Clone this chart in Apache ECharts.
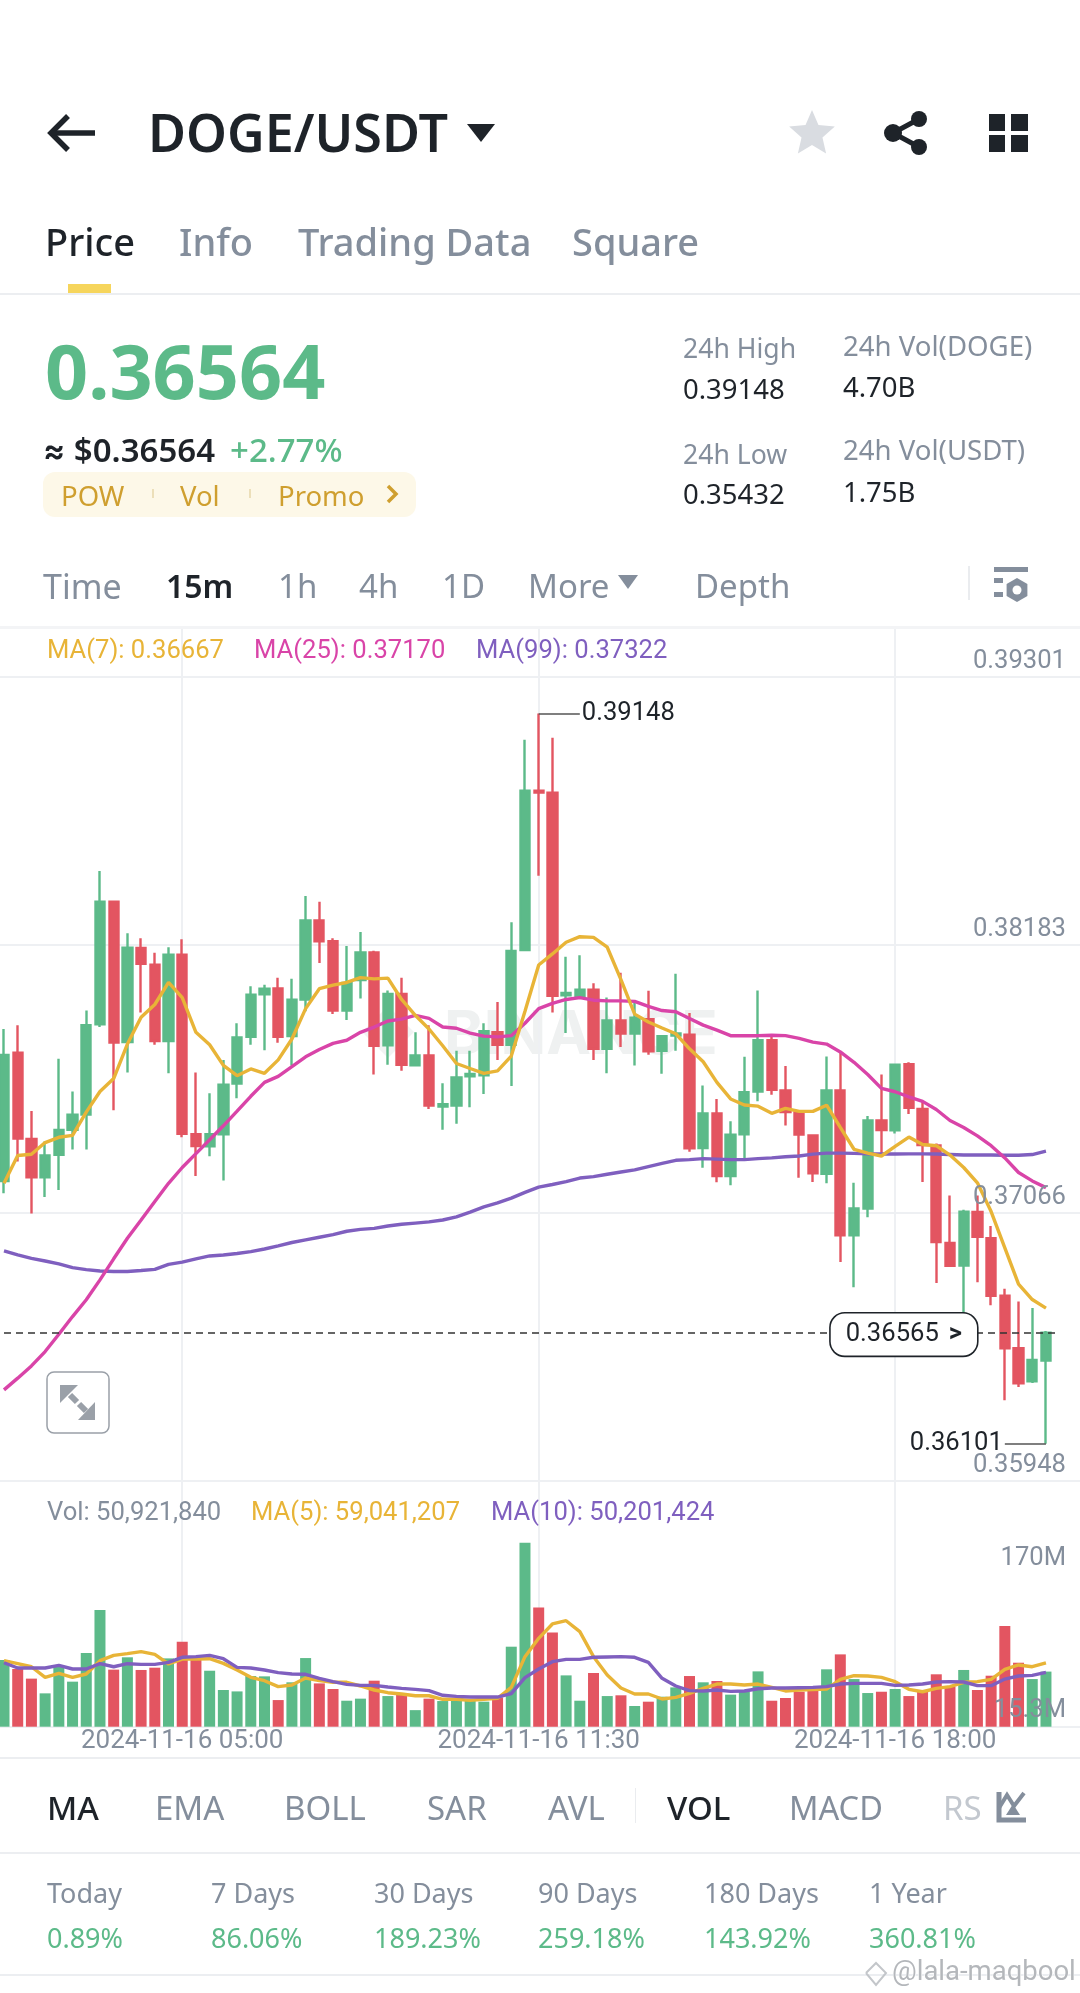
<!DOCTYPE html>
<html><head><meta charset="utf-8">
<style>html,body{margin:0;padding:0;background:#fff}#c{width:1080px;height:1993px}</style>
<script src="https://cdn.jsdelivr.net/npm/echarts@6/dist/echarts.min.js"></script>
</head><body><div id="c"></div>
<script>
const datePrefix = '2024-11-16 ';
const times = ['01:45','02:00','02:15','02:30','02:45','03:00','03:15','03:30','03:45','04:00','04:15','04:30','04:45','05:00','05:15','05:30','05:45','06:00','06:15','06:30','06:45','07:00','07:15','07:30','07:45','08:00','08:15','08:30','08:45','09:00','09:15','09:30','09:45','10:00','10:15','10:30','10:45','11:00','11:15','11:30','11:45','12:00','12:15','12:30','12:45','13:00','13:15','13:30','13:45','14:00','14:15','14:30','14:45','15:00','15:15','15:30','15:45','16:00','16:15','16:30','16:45','17:00','17:15','17:30','17:45','18:00','18:15','18:30','18:45','19:00','19:15','19:30','19:45','20:00','20:15','20:30','20:45'];
const opens = [.37197,.37733,.37373,.37213,.37307,.37411,.37475,.37851,.38363,.37777,.38170,.38100,.37782,.38142,.37393,.37342,.37393,.37604,.37799,.37977,.38001,.37802,.37955,.38285,.38198,.37909,.38036,.38151,.37764,.37978,.37680,.37721,.37508,.37512,.37634,.37639,.37818,.37766,.38161,.38826,.38818,.37972,.37970,.37996,.37749,.37868,.37813,.37873,.37741,.37805,.37808,.37335,.37479,.37218,.37393,.37571,.37785,.37575,.37484,.37388,.37228,.37575,.36971,.37083,.37450,.37409,.37685,.37498,.37346,.36939,.36845,.37069,.36959,.36719,.36500,.36362,.36449];
const closes = [.37724,.37375,.37213,.37304,.37411,.37474,.37848,.38363,.37775,.38171,.38104,.37782,.38142,.37395,.37343,.37393,.37599,.37797,.37975,.38000,.37799,.37954,.38285,.38198,.37909,.38024,.38151,.37762,.37978,.37683,.37721,.37512,.37518,.37630,.37644,.37823,.37766,.38158,.38826,.38818,.37970,.37982,.37996,.37749,.37868,.37813,.37879,.37739,.37802,.37813,.37334,.37479,.37218,.37391,.37568,.37785,.37578,.37485,.37391,.37230,.37575,.36971,.37083,.37450,.37410,.37683,.37503,.37348,.36943,.36844,.37070,.36965,.36719,.36500,.36354,.36451,.36565];
const lows = [.37147,.37279,.37062,.37131,.37160,.37329,.37329,.37840,.37493,.37650,.37901,.37766,.37647,.37380,.37218,.37301,.37200,.37543,.37766,.37743,.37774,.37680,.37906,.38107,.37894,.37869,.37959,.37642,.37683,.37658,.37675,.37498,.37411,.37436,.37505,.37561,.37703,.37594,.38161,.38471,.37901,.37815,.37970,.37703,.37647,.37757,.37680,.37724,.37645,.37741,.37320,.37253,.37192,.37180,.37287,.37530,.37557,.37429,.37211,.37193,.37188,.36860,.36754,.37046,.37302,.37396,.37477,.37193,.36772,.36844,.36639,.36775,.36679,.36283,.36338,.36355,.36101];
const highs = [.37832,.37848,.37490,.37362,.37708,.37571,.37909,.38491,.38363,.38231,.38211,.38150,.38173,.38206,.37650,.37564,.37703,.37856,.38010,.38016,.38046,.38041,.38387,.38363,.38211,.38178,.38237,.38158,.37992,.38046,.37818,.37848,.37606,.37741,.37741,.37856,.37944,.38277,.39039,.39148,.39047,.38133,.38140,.38023,.37963,.38067,.37947,.37991,.37807,.38062,.37899,.37596,.37540,.37447,.37716,.37992,.37801,.37677,.37484,.37389,.37717,.37733,.37190,.37469,.37642,.37688,.37693,.37533,.37354,.37137,.37078,.37137,.37010,.36748,.36695,.36668,.36572];
const ma7 = [.37188,.37304,.37309,.37358,.37380,.37388,.37485,.37571,.37625,.37769,.37881,.37934,.38026,.37963,.37818,.37766,.37680,.37637,.37665,.37647,.37703,.37790,.37917,.38000,.38015,.38026,.38046,.38041,.38044,.37955,.37889,.37832,.37762,.37688,.37667,.37647,.37657,.37719,.37906,.38099,.38145,.38194,.38217,.38214,.38173,.38038,.37894,.37861,.37836,.37812,.37749,.37695,.37609,.37540,.37515,.37510,.37480,.37501,.37488,.37488,.37514,.37421,.37330,.37314,.37302,.37342,.37381,.37350,.37345,.37306,.37254,.37190,.37070,.36919,.36767,.36703,.36667];
const ma25 = [.36326,.36375,.36426,.36486,.36558,.36632,.36702,.36785,.36873,.36959,.37035,.37112,.37188,.37254,.37312,.37370,.37428,.37489,.37551,.37609,.37634,.37675,.37716,.37746,.37772,.37785,.37818,.37840,.37865,.37873,.37889,.37876,.37840,.37835,.37815,.37802,.37799,.37804,.37856,.37917,.37939,.37955,.37963,.37952,.37949,.37949,.37947,.37926,.37909,.37904,.37876,.37848,.37827,.37804,.37804,.37804,.37806,.37804,.37793,.37777,.37769,.37736,.37693,.37642,.37584,.37570,.37549,.37530,.37496,.37450,.37421,.37386,.37345,.37294,.37233,.37198,.37170];
const ma99 = [.36906,.36889,.36875,.36864,.36852,.36836,.36828,.36822,.36820,.36820,.36824,.36829,.36850,.36859,.36873,.36885,.36889,.36895,.36903,.36914,.36927,.36941,.36952,.36963,.36974,.36988,.36996,.37000,.37010,.37017,.37022,.37027,.37035,.37048,.37068,.37090,.37106,.37126,.37150,.37172,.37183,.37195,.37210,.37216,.37226,.37235,.37244,.37258,.37271,.37284,.37287,.37291,.37289,.37287,.37287,.37291,.37294,.37299,.37302,.37310,.37314,.37314,.37313,.37311,.37310,.37310,.37311,.37311,.37310,.37308,.37306,.37306,.37306,.37305,.37305,.37308,.37322];
const volumes = [61.6,53.3,44.4,30.8,55.4,41.6,68.1,107.8,52.7,64.1,52.4,54.5,63.1,78.5,61.6,51.7,33.9,32.6,46.8,46.5,24.6,41.0,63.4,40.0,34.8,24.0,25.9,42.5,28.3,29.3,15.3,25.9,23.7,26.2,24.6,23.1,27.1,73.9,170,110,86.9,47.4,24.0,49.6,28.3,29.0,19.1,23.1,27.7,36.3,46.8,41.0,42.2,29.6,32.3,51.1,24.0,26.5,32.3,33.9,53.0,66.8,44.0,31.1,32.3,34.8,28.3,32.3,48.4,37.0,52.4,33.9,47.1,93.0,59.1,44.0,50.9];
const volMa5 = [61.0,58.2,55.4,45.6,49.3,45.6,48.7,61.0,65.9,67.5,69.3,66.8,57.9,62.5,62.5,62.8,58.5,52.4,45.6,42.5,37.0,38.5,45.0,42.5,41.0,41.0,37.6,33.9,31.4,30.2,28.6,28.6,25.3,25.3,24.3,25.3,26.2,36.3,64.7,81.6,94.9,97.9,87.8,64.7,47.7,35.7,30.2,30.2,25.6,27.1,30.8,35.4,39.4,39.4,38.5,39.4,36.3,33.0,33.9,34.2,34.8,43.7,47.1,46.8,45.6,41.6,34.5,32.3,35.4,37.0,41.0,41.6,43.7,53.0,57.0,55.4,59.0];
const volMa10 = [59.1,54.2,54.2,54.2,56.7,53.3,53.3,58.2,55.4,58.2,57.6,57.6,59.4,64.1,64.7,65.9,62.8,54.8,54.2,52.4,49.9,48.7,48.4,44.7,41.6,39.1,38.2,38.2,36.7,35.4,34.5,33.3,29.0,28.0,27.4,27.4,27.4,30.5,45.3,53.3,60.1,62.2,62.2,64.1,64.4,64.7,64.1,59.4,44.7,37.6,33.3,33.0,33.9,32.6,33.0,35.1,35.7,35.7,36.0,36.3,37.0,39.4,40.0,40.0,40.0,38.2,38.5,39.4,41.3,41.6,41.3,37.9,37.9,44.0,46.8,47.4,50.2];
const priceTicks = [0.39301,0.38183,0.37066,0.35948];
const labelledIdx = [13,39,65];
const lastPrice = 0.36565, highPrice = 0.39148, lowPrice = 0.36101;

const GREEN='#5cba89', RED='#e35561', YEL='#e8b437', MAG='#d944a8', PUR='#7f5fbf', GRAY='#848e9c', DARK='#1e2329', LINE='#eef0f3';
const ROB='Roboto', UI='"Noto Sans", Inter, sans-serif';
const cats = times.map(t=>datePrefix+t).concat(['','']);
const isMark = i=>labelledIdx.includes(i);
const els=[];
const T=(text,x,y,size,color,weight,font,z)=>els.push({type:'text',z:z==null?10:z,silent:true,style:{text,x,y:y+4,fill:color,font:(weight||400)+' '+size+'px '+(font||UI),verticalAlign:'middle',align:'left'}});
const P=(points,fill,z)=>els.push({type:'polygon',z:z==null?10:z,silent:true,shape:{points},style:{fill}});
const L=(points,stroke,w,z)=>els.push({type:'polyline',z:z==null?10:z,silent:true,shape:{points},style:{stroke,lineWidth:w,fill:null}});
const R=(x,y,w,h,fill,r,stroke,lw)=>els.push({type:'rect',z:10,silent:true,shape:{x,y,width:w,height:h,r:r||0},style:{fill,stroke:stroke||null,lineWidth:lw||0}});
const C=(cx,cy,r,fill)=>els.push({type:'circle',z:10,silent:true,shape:{cx,cy,r},style:{fill}});

L([[68,116],[51,133],[68,150]],DARK,5.5); L([[51,133],[95,133]],DARK,5.5);
T('DOGE/USDT',148,133,52,DARK,600);
P([[467,124],[495,124],[481,142]],DARK);
{const s=[];for(let k=0;k<10;k++){const a=-Math.PI/2+k*Math.PI/5,r=k%2?11:24;s.push([812+r*Math.cos(a),134+r*Math.sin(a)]);}P(s,'#d9dce1');}
L([[919,119],[893,133],[919,147]],DARK,5); C(919,119,8,DARK);C(893,133,9,DARK);C(919,147,8,DARK);
R(989,114,16,17,DARK);R(1011,114,17,17,DARK);R(989,135,16,17,DARK);R(1011,135,17,17,DARK);
T('Price',45,241,38,DARK,500);T('Info',179,241,38,GRAY,500);T('Trading Data',298,241,38,GRAY,500);T('Square',572,241,38,GRAY,500);
R(68,284,43,9,'#f6d55c');R(0,293,1080,2,'#eceef1');
T('0.36564',45,373,75.5,GREEN,700);
T('≈ $0.36564',43,449,33,DARK,600);T('+2.77%',230,449,33,GREEN,500);
R(43,472,373,45,'#fdf8e8',12);
T('POW',61,494,27.5,'#cf9f2f');T('Vol',180,494,27.5,'#cf9f2f');T('Promo',278,494,27.5,'#cf9f2f');
R(152,489,2,9,'#ecdfb9');R(249,489,2,9,'#ecdfb9');
L([[388,486],[396,494],[388,502]],'#cf9f2f',3.5);
T('24h High',683,346,26.6,GRAY);T('0.39148',683,387,27.5,DARK);T('24h Low',683,452,26.6,GRAY);T('0.35432',683,492,27.5,DARK);
T('24h Vol(DOGE)',843,344,27.6,GRAY);T('4.70B',843,385,27.5,DARK);T('24h Vol(USDT)',843,448,27.6,GRAY);T('1.75B',843,490,27.5,DARK);
T('Time',43,585,34,GRAY);T('15m',166,585,32,DARK,600);T('1h',278,585,33,GRAY);T('4h',359,585,33,GRAY);T('1D',442,585,33,GRAY);T('More',528,585,33,GRAY);
P([[618,575],[638,575],[628,589]],GRAY);T('Depth',695,585,33,GRAY);
R(968,566,2,34,'#eaecef');R(994,567,34,5,GRAY);R(994,578,9,5,GRAY);R(994,592,9,5,GRAY);
{const s=[];for(let k=0;k<6;k++){const a=Math.PI/6+k*Math.PI/3;s.push([1017+12*Math.cos(a),590+12*Math.sin(a)]);}P(s,GRAY);C(1017,590,4.5,'#fff');}
R(0,626,1080,3,'#f3f4f6');
T('MA(7): 0.36667',47,648,25.6,YEL,400,ROB);T('MA(25): 0.37170',254,648,25.6,MAG,400,ROB);T('MA(99): 0.37322',476,648,25.6,PUR,400,ROB);
T('Vol: 50,921,840',47,1510,25.6,GRAY,400,ROB);T('MA(5): 59,041,207',251,1510,25.6,YEL,400,ROB);T('MA(10): 50,201,424',491,1510,25.6,PUR,400,ROB);
T('BINANCE',444,1032,60,'#eff1f1',700,'Inter',0);
P([[362,1032],[388,1006],[414,1032],[388,1058]],'#f1f3f3',0);
R(47,1372,62,61,'#fff',7,'#9aa0a8',1.5);
P([[60,1385],[78,1385],[60,1403]],'#9aa0a8');P([[95,1420],[78,1420],[95,1402]],'#9aa0a8');
L([[70,1395],[77,1402]],'#9aa0a8',6);L([[79,1404],[86,1411]],'#9aa0a8',6);
R(0,1757,1080,2,'#eceef1');
T('MA',47,1807,33,DARK,500);T('EMA',155,1807,33,GRAY);T('BOLL',284,1807,33,GRAY);T('SAR',427,1807,33,GRAY);T('AVL',548,1807,33,GRAY);
R(635,1788,1,35,'#eaecef');T('VOL',667,1807,33,DARK,500);T('MACD',789,1807,32.5,GRAY);T('RS',943,1807,33,'#c3c8cf');
L([[999,1792],[999,1820],[1026,1820]],GRAY,5);L([[999,1808],[1007,1795],[1014,1806],[1024,1793]],GRAY,4);P([[1006,1815],[1013,1804],[1020,1815]],GRAY);
R(0,1852,1080,2,'#eceef1');
[['Today','0.89%',47],['7 Days','86.06%',211],['30 Days','189.23%',374],['90 Days','259.18%',538],['180 Days','143.92%',704],['1 Year','360.81%',869]].forEach(a=>{T(a[0],a[2],1891,27,GRAY);T(a[1],a[2],1936,27,GREEN);});
R(0,1974,1080,2,'#eceef1');
L([[866,1973],[876,1963],[886,1973],[876,1985],[866,1973]],'#c3c6ca',2);
els.push({type:'text',z:11,silent:true,style:{text:'@lala-maqbool',x:892,y:1973,fill:'#b4b7bb',stroke:'#fff',lineWidth:1,font:'400 27.5px '+ROB,verticalAlign:'middle'}});

const candleData = opens.map((o,i)=>[o,closes[i],lows[i],highs[i]]);
const volData = volumes.map((v,i)=>({value:v,itemStyle:{color:closes[i]>=opens[i]?GREEN:RED}}));
const lineS=(name,data,color,x,y)=>({name,type:'line',data,xAxisIndex:x,yAxisIndex:y,symbol:'none',smooth:false,z:3,clip:false,lineStyle:{color,width:3.4},silent:true});
const xAx=(g,showLabel)=>({type:'category',gridIndex:g,data:cats,boundaryGap:false,axisLine:{show:false},axisTick:{show:false},
  axisLabel:{show:showLabel,interval:(i)=>isMark(i),color:GRAY,fontFamily:ROB,fontSize:26,margin:2},
  splitLine:{show:true,interval:(i)=>isMark(i),lineStyle:{color:LINE,width:2}}});
const bgX=(g,line)=>({type:'value',gridIndex:g,min:0,max:1,axisLine:{show:line,lineStyle:{color:LINE,width:2}},axisTick:{show:false},axisLabel:{show:false},splitLine:{show:false}});
const yLabel=(g,mn,mx,vals,fmt,va,lh)=>({type:'value',gridIndex:g,position:'right',min:mn,max:mx,z:6,axisLine:{show:false},axisTick:{show:false},splitLine:{show:false},
  axisLabel:{inside:true,margin:14,customValues:vals,formatter:fmt,color:GRAY,fontFamily:ROB,fontSize:25.6,verticalAlign:va,lineHeight:lh}});
const PMIN=0.35948, PMAX=0.39505, VMAX=227.4;
const step=13.71, PTOP=628, PH=852.5, VTOP=1480.5, VH=246.2;

const chart=echarts.init(document.getElementById('c'),null,{renderer:'canvas',width:1080,height:1993});
chart.setOption({
  animation:false,backgroundColor:'#fff',
  graphic:{elements:els},
  grid:[
    {left:4,top:PTOP,height:PH,width:step*78},
    {left:4,top:VTOP,height:VH,width:step*78},
    {left:0,top:PTOP,height:PH,width:1080},
    {left:0,top:VTOP,height:VH,width:1080}
  ],
  xAxis:[xAx(0,false),xAx(1,true),bgX(2,false),bgX(3,true)],
  yAxis:[
    {type:'value',gridIndex:0,min:PMIN,max:PMAX,show:false},
    {type:'value',gridIndex:1,min:0,max:VMAX,show:false},
    {type:'value',gridIndex:2,position:'right',min:PMIN,max:PMAX,z:0,axisLine:{show:false},axisTick:{show:false,customValues:priceTicks},
      axisLabel:{show:false,customValues:priceTicks},splitLine:{show:true,lineStyle:{color:LINE,width:2}}},
    yLabel(2,PMIN,PMAX,priceTicks,v=>v.toFixed(5),'bottom',30),
    yLabel(3,0,VMAX,[170],v=>v+'M','top',32),
    yLabel(3,0,VMAX,[15.3],v=>v+'M','middle',28)
  ],
  series:[
    {name:'DOGE/USDT',type:'candlestick',data:candleData,xAxisIndex:0,yAxisIndex:0,barWidth:9.8,z:2,silent:true,clip:false,
      itemStyle:{color:GREEN,color0:RED,borderColor:GREEN,borderColor0:RED,borderWidth:2.4},
      markLine:{silent:true,symbol:'none',animation:false,data:[
        [{coord:[0,lastPrice],lineStyle:{color:'#333',type:[7,5],width:1.6},label:{show:false}},{coord:[77,lastPrice]}],
        [{coord:[39,highPrice],lineStyle:{color:'#555',type:'solid',width:1.6},label:{show:true,position:'end',distance:2,formatter:highPrice.toFixed(5),color:DARK,fontFamily:ROB,fontSize:25.6}},{coord:[42,highPrice]}],
        [{coord:[76,lowPrice],lineStyle:{color:'#555',type:'solid',width:1.6},label:{show:true,position:'end',distance:2,formatter:lowPrice.toFixed(5),color:DARK,fontFamily:ROB,fontSize:25.6}},{coord:[73,lowPrice]}]
      ]},
      markPoint:{silent:true,symbolSize:0,animation:false,z:9,data:[{coord:[66,lastPrice],label:{show:true,position:'inside',offset:[-5,2],formatter:'{a|'+lastPrice.toFixed(5)+'}   {b|>}',rich:{a:{color:DARK,fontFamily:ROB,fontSize:25.6},b:{color:DARK,fontFamily:ROB,fontSize:25.6,fontWeight:700}},backgroundColor:'#fff',borderColor:DARK,borderWidth:1.6,borderRadius:14,padding:[8,15,8,15]}}]}
    },
    lineS('MA(99)',ma99,PUR,0,0),lineS('MA(25)',ma25,MAG,0,0),lineS('MA(7)',ma7,YEL,0,0),
    {name:'Vol',type:'bar',data:volData,xAxisIndex:1,yAxisIndex:1,barWidth:11,z:2,silent:true,clip:false},
    lineS('Vol MA(5)',volMa5,YEL,1,1),lineS('Vol MA(10)',volMa10,PUR,1,1)
  ]
});
</script></body></html>
